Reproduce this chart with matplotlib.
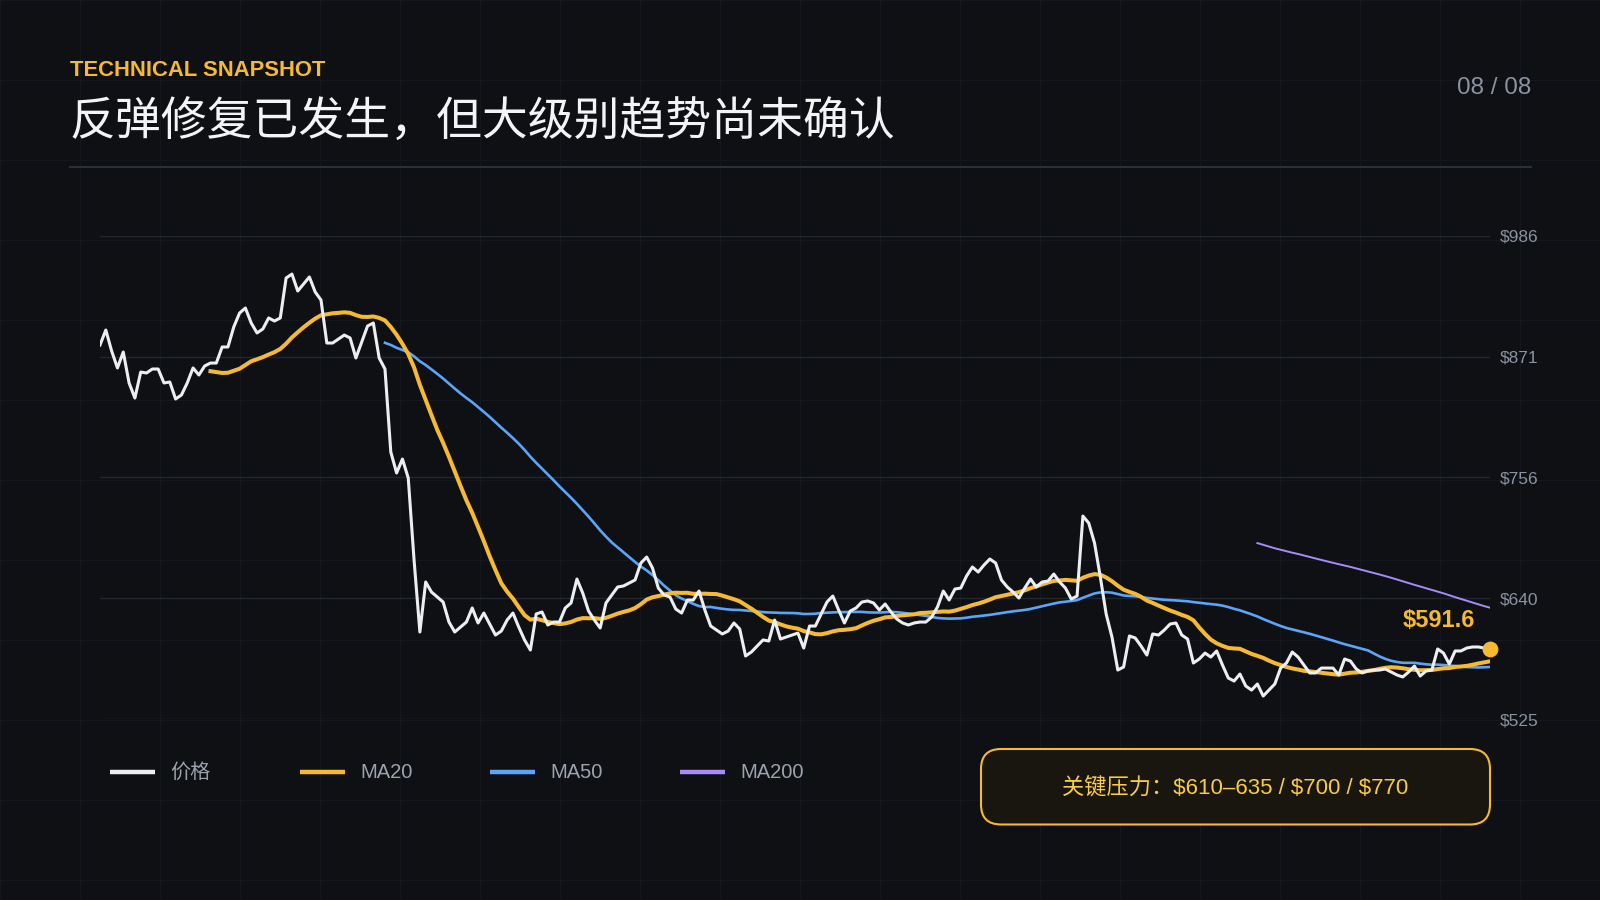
import matplotlib
matplotlib.use('Agg')
import matplotlib.pyplot as plt
from matplotlib.patches import FancyBboxPatch
import numpy as np
import pandas as pd

plt.rcParams['font.family'] = ['Liberation Sans', 'Noto Sans CJK SC', 'DejaVu Sans']
CJK = ['Noto Sans CJK SC', 'DejaVu Sans']

# daily close (240 sessions)
price = [
    881.9, 896.2, 876.2, 860.0, 875.2, 845.7, 831.3, 856.1, 855.2, 859.0,
    859.0, 845.7, 846.6, 830.4, 834.2, 845.7, 860.0, 853.3, 861.9, 864.7,
    864.7, 880.0, 880.0, 899.1, 912.4, 917.2, 902.9, 893.4, 897.2, 907.7,
    904.8, 907.7, 945.8, 949.6, 933.4, 940.1, 946.8, 932.5, 924.8, 883.8,
    883.8, 887.6, 891.4, 888.6, 869.5, 884.8, 900.0, 902.9, 869.5, 859.0,
    779.8, 759.8, 773.1, 755.0, 676.8, 608.1, 655.8, 646.2, 641.5, 636.7,
    617.6, 608.1, 612.8, 617.6, 631.0, 616.7, 626.2, 615.7, 605.2, 609.0,
    619.5, 626.2, 612.8, 600.5, 590.9, 625.3, 627.2, 614.8, 617.6, 617.6,
    631.0, 635.8, 658.6, 645.3, 628.1, 619.5, 611.9, 635.8, 643.4, 651.0,
    652.0, 654.8, 657.7, 673.9, 679.6, 669.1, 650.0, 643.4, 641.5, 630.0,
    626.2, 638.6, 638.6, 647.2, 629.1, 613.8, 610.0, 606.2, 609.0, 616.7,
    610.9, 585.2, 589.0, 594.7, 600.5, 599.5, 619.5, 601.4, 603.3, 605.2,
    607.1, 592.8, 613.8, 613.8, 625.3, 636.7, 642.4, 629.1, 616.7, 628.1,
    631.0, 636.7, 637.7, 635.8, 629.1, 634.8, 627.2, 620.5, 616.7, 614.8,
    616.7, 617.6, 617.6, 622.4, 632.0, 647.2, 638.6, 649.1, 650.0, 661.5,
    670.1, 665.3, 672.0, 677.7, 673.9, 657.7, 651.0, 646.2, 640.5, 650.0,
    658.6, 651.0, 655.8, 656.7, 663.4, 655.8, 650.0, 639.6, 642.4, 718.7,
    712.1, 693.0, 660.5, 625.3, 603.3, 571.8, 574.7, 604.3, 602.4, 594.7,
    586.1, 606.2, 605.2, 610.0, 615.7, 616.7, 605.2, 601.4, 578.5, 582.3,
    588.0, 584.2, 590.0, 576.6, 564.2, 561.3, 568.0, 556.6, 552.7, 558.5,
    547.0, 552.7, 558.5, 573.7, 578.5, 589.0, 584.2, 576.6, 569.0, 569.0,
    573.7, 573.7, 573.7, 567.1, 582.3, 580.4, 572.8, 569.0, 570.9, 571.8,
    571.8, 572.8, 569.9, 567.1, 565.2, 569.9, 575.6, 566.1, 570.9, 571.8,
    591.9, 588.0, 577.5, 590.0, 590.0, 592.8, 593.8, 593.8, 592.8, 591.6,
]
ma_windows = [20, 50, 200]
legend_labels = ['价格', 'MA20', 'MA50', 'MA200']
y_min, y_max = 525, 986
y_tick_labels = ['$525', '$640', '$756', '$871', '$986']

eyebrow = 'TECHNICAL SNAPSHOT'
title = '反弹修复已发生，但大级别趋势尚未确认'
page = '08 / 08'
resistance = '关键压力：$610–635 / $700 / $770'

BG = '#0e1014'
YELLOW = '#f6b932'
WHITE = '#eceef2'
BLUE = '#5aa5f8'
PURPLE = '#a78bfa'
GREY = '#8b93a0'
line_colors = [WHITE, YELLOW, BLUE, PURPLE]

fig = plt.figure(figsize=(16, 9), dpi=100, facecolor=BG)

# backdrop in pixel units: faint square pattern + page furniture
bg = fig.add_axes([0, 0, 1, 1], zorder=0)
bg.set_xlim(0, 1600)
bg.set_ylim(900, 0)
bg.axis('off')
for gx in range(0, 1601, 80):
    bg.axvline(gx, color='#14171d', lw=0.8, zorder=1)
for gy in range(0, 901, 80):
    bg.axhline(gy, color='#14171d', lw=0.8, zorder=1)

bg.text(70, 70, eyebrow, fontsize=15.8, fontweight='bold', color=YELLOW,
        ha='left', va='center')
bg.text(70, 123, title, fontsize=33, fontweight='medium', color='#f3f4f6',
        family=CJK, ha='left', va='center')
bg.text(1531, 88, page, fontsize=17.5, color=GREY, ha='right', va='center')
bg.plot([70, 1531], [167, 167], color='#2b3038', lw=1.5)

# chart
ax = fig.add_axes([0.0625, 0.201, 0.86875, 0.5369], zorder=1)
ax.patch.set_visible(False)
xs = np.arange(len(price))
s = pd.Series(price)
mas = {w: s.rolling(w).mean() for w in ma_windows}

ax.plot(xs, mas[200], color=PURPLE, lw=1.4, zorder=2)
ax.plot(xs, mas[50], color=BLUE, lw=1.9, zorder=3)
ax.plot(xs, mas[20], color=YELLOW, lw=2.9, zorder=4)
ax.plot(xs, price, color=WHITE, lw=2.2, zorder=5)
ax.scatter([xs[-1]], [price[-1]], s=130, color=YELLOW, zorder=6,
           clip_on=False, linewidths=0)
ax.annotate(f'${price[-1]:.1f}', (xs[-1], price[-1]), xytext=(-11, 21),
            textcoords='offset points', ha='right', va='center',
            fontsize=17, fontweight='bold', color=YELLOW, zorder=7)

ax.set_xlim(0, len(price) - 1)
ax.set_ylim(y_min, y_max)
ax.set_yticks(np.linspace(y_min, y_max, len(y_tick_labels)), y_tick_labels)
ax.set_xticks([])
ax.yaxis.tick_right()
ax.tick_params(axis='y', length=0, pad=7, labelsize=12.5, labelcolor=GREY)
ax.grid(axis='y', color='#22272e', lw=1)
ax.set_axisbelow(True)
for sp in ax.spines.values():
    sp.set_visible(False)

# legend row
for k, (lab, col) in enumerate(zip(legend_labels, line_colors)):
    x0 = 110 + 190 * k
    bg.plot([x0, x0 + 45], [772, 772], color=col, lw=3.2,
            solid_capstyle='butt', zorder=3)
    bg.text(x0 + 60, 772, lab, fontsize=14.5, color='#9ca3af', ha='left',
            va='center', zorder=3)

# resistance box
box = FancyBboxPatch((981, 749), 509, 75.5,
                     boxstyle='round,pad=0,rounding_size=20',
                     fc='#19160f', ec=YELLOW, lw=1.5, zorder=3)
bg.add_patch(box)
bg.text(1235, 788, resistance, fontsize=16, color='#f9cb4a',
        ha='center', va='center', zorder=4)

fig.savefig('out.png', dpi=100, facecolor=BG)
